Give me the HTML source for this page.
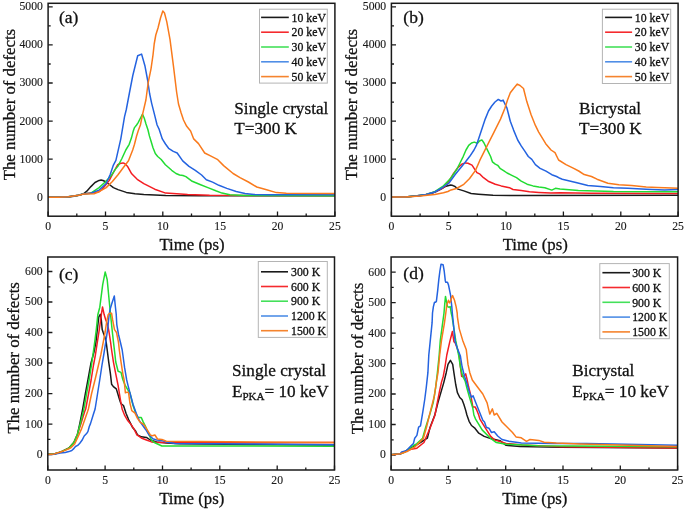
<!DOCTYPE html>
<html><head><meta charset="utf-8"><title>Defects vs time</title>
<style>html,body{margin:0;padding:0;background:#fff;}svg{display:block;} text{stroke:#111;stroke-width:0.3;} .tk text{stroke-width:0.12px;}</style></head>
<body>
<svg width="685" height="509" viewBox="0 0 685 509">
<rect width="685" height="509" fill="#fff"/>
<clipPath id="cpa"><rect x="48.1" y="3.3" width="286.8" height="212.9"/></clipPath>
<path d="M48.1 216.2 v-4.6 M105.5 216.2 v-4.6 M162.8 216.2 v-4.6 M220.2 216.2 v-4.6 M277.5 216.2 v-4.6 M334.9 216.2 v-4.6 M76.8 216.2 v-2.6 M134.1 216.2 v-2.6 M191.5 216.2 v-2.6 M248.9 216.2 v-2.6 M306.2 216.2 v-2.6 M48.1 197.3 h4.6 M48.1 159.2 h4.6 M48.1 121.1 h4.6 M48.1 83.0 h4.6 M48.1 44.9 h4.6 M48.1 6.9 h4.6 M48.1 178.3 h2.6 M48.1 140.2 h2.6 M48.1 102.1 h2.6 M48.1 64.0 h2.6 M48.1 25.9 h2.6" stroke="#1a1a1a" stroke-width="1.3" fill="none"/>
<g clip-path="url(#cpa)" fill="none" stroke-width="1.5" stroke-linejoin="round" stroke-linecap="round">
<path d="M48.1 197.3 L58.0 197.3 L68.4 196.9 L74.0 196.2 L78.7 195.3 L83.8 193.7 L86.8 191.2 L90.9 186.6 L95.0 182.5 L99.1 180.4 L101.1 180.1 L103.0 180.5 L105.2 181.5 L109.3 184.5 L113.4 187.6 L118.0 189.6 L126.3 192.4 L135.0 193.8 L143.8 194.6 L165.7 195.5 L200.0 195.8 L335.0 195.8" stroke="#1a1a1a"/>
<path d="M48.1 197.3 L58.0 197.3 L68.4 196.8 L78.7 195.3 L83.8 193.9 L92.0 192.7 L99.1 191.7 L102.0 189.5 L105.2 185.5 L109.3 180.4 L113.4 172.5 L117.5 165.0 L120.0 163.5 L123.0 162.9 L125.0 163.8 L127.4 166.2 L131.7 173.8 L137.2 179.3 L143.8 183.7 L154.7 189.2 L165.7 193.1 L187.6 194.6 L209.5 195.3 L335.0 195.6" stroke="#f41c22"/>
<path d="M48.1 197.3 L58.0 197.3 L68.4 196.8 L78.7 195.3 L83.8 193.8 L90.9 193.2 L99.1 187.6 L105.2 182.0 L108.8 178.2 L111.4 175.3 L115.3 169.4 L118.0 166.1 L121.9 158.5 L125.8 150.0 L129.2 144.3 L131.4 138.1 L133.1 131.6 L134.5 127.6 L136.6 125.0 L138.0 122.8 L140.5 118.0 L142.5 114.2 L144.2 118.0 L146.0 124.0 L148.0 130.0 L149.4 135.9 L151.2 141.8 L153.0 147.7 L155.3 153.6 L157.7 156.5 L161.2 159.5 L165.4 164.8 L171.7 170.3 L176.0 173.5 L179.6 175.0 L183.0 175.5 L185.9 176.6 L192.2 181.3 L200.0 184.5 L207.9 187.6 L215.8 190.8 L222.0 193.1 L229.9 194.7 L245.0 195.4 L335.0 195.8" stroke="#22dc32"/>
<path d="M48.1 197.3 L58.0 197.3 L68.4 196.8 L78.7 195.3 L83.8 193.8 L90.9 193.3 L99.1 190.1 L106.2 183.5 L110.3 174.3 L113.4 165.1 L115.9 160.3 L120.8 138.8 L124.5 116.9 L126.3 109.5 L129.6 92.0 L132.8 75.5 L137.7 55.8 L141.6 54.1 L144.9 65.7 L147.6 80.0 L149.6 93.5 L151.6 103.1 L154.4 114.1 L157.1 125.0 L159.2 129.4 L162.3 138.9 L165.5 144.0 L168.6 148.3 L173.3 151.4 L177.2 153.0 L182.7 160.9 L189.0 166.4 L195.3 170.3 L201.6 175.0 L206.3 179.7 L212.6 182.1 L218.9 185.3 L226.8 188.4 L236.2 191.5 L245.0 193.6 L254.0 194.6 L270.0 194.8 L335.0 194.8" stroke="#2463e0"/>
<path d="M48.1 197.3 L58.0 197.3 L68.4 196.8 L78.7 195.3 L83.8 194.0 L94.0 193.7 L99.1 191.7 L106.2 187.6 L112.4 181.5 L118.0 174.8 L123.0 168.0 L128.5 160.7 L132.7 150.0 L134.5 144.3 L136.6 136.0 L138.4 130.3 L140.4 125.0 L142.5 114.7 L145.9 100.0 L148.2 82.5 L151.0 68.8 L153.0 55.0 L154.2 44.0 L155.8 35.0 L158.0 28.0 L160.5 18.0 L162.8 10.9 L164.5 13.0 L166.8 21.9 L170.0 39.4 L173.4 65.7 L176.6 92.0 L178.5 104.0 L181.0 112.5 L183.5 120.0 L186.7 126.3 L190.6 131.0 L193.7 138.9 L198.5 143.6 L204.7 153.0 L211.0 156.2 L217.3 159.3 L223.6 165.6 L233.1 173.5 L240.0 177.6 L248.4 182.0 L256.8 187.0 L266.6 189.8 L276.4 192.6 L286.3 193.3 L335.0 193.5" stroke="#f97a1c"/>
</g>
<rect x="48.1" y="3.3" width="286.8" height="212.9" fill="none" stroke="#1a1a1a" stroke-width="1.5"/>
<g class="tk" font-family="'Liberation Serif','Times New Roman',serif" font-size="11.7" fill="#1a1a1a">
<text x="48.1" y="230.1" text-anchor="middle">0</text>
<text x="105.5" y="230.1" text-anchor="middle">5</text>
<text x="162.8" y="230.1" text-anchor="middle">10</text>
<text x="220.2" y="230.1" text-anchor="middle">15</text>
<text x="277.5" y="230.1" text-anchor="middle">20</text>
<text x="334.9" y="230.1" text-anchor="middle">25</text>
<text x="42.9" y="200.7" text-anchor="end">0</text>
<text x="42.9" y="162.6" text-anchor="end">1000</text>
<text x="42.9" y="124.5" text-anchor="end">2000</text>
<text x="42.9" y="86.4" text-anchor="end">3000</text>
<text x="42.9" y="48.3" text-anchor="end">4000</text>
<text x="42.9" y="10.3" text-anchor="end">5000</text>
</g>
<text transform="translate(192.0,249.7) scale(1,1.0)" text-anchor="middle" font-family="'Liberation Serif','Times New Roman',serif" font-size="16.8" fill="#111">Time (ps)</text>
<text transform="translate(14.6,180.3) rotate(-90) scale(1,1.0)" font-family="'Liberation Serif','Times New Roman',serif" font-size="16.8" fill="#111">The number of defects</text>
<text transform="translate(59.0,22.5) scale(1,1.0)" font-family="'Liberation Serif','Times New Roman',serif" font-size="17.5" fill="#111">(a)</text>
<rect x="259.5" y="9.2" width="67.8" height="73.9" fill="#fff" stroke="#b4b4b4" stroke-width="1"/>
<g font-family="'Liberation Serif','Times New Roman',serif" font-size="11.8" fill="#111">
<path d="M261.1 17.4 H288.8" stroke="#1a1a1a" stroke-width="1.6"/>
<text transform="translate(291.6,21.6) scale(1,1.0)">10 keV</text>
<path d="M261.1 32.2 H288.8" stroke="#f52a2e" stroke-width="1.6"/>
<text transform="translate(291.6,36.4) scale(1,1.0)">20 keV</text>
<path d="M261.1 47.0 H288.8" stroke="#44e05a" stroke-width="1.6"/>
<text transform="translate(291.6,51.2) scale(1,1.0)">30 keV</text>
<path d="M261.1 61.8 H288.8" stroke="#4f8ee6" stroke-width="1.6"/>
<text transform="translate(291.6,66.0) scale(1,1.0)">40 keV</text>
<path d="M261.1 76.6 H288.8" stroke="#f5842e" stroke-width="1.6"/>
<text transform="translate(291.6,80.8) scale(1,1.0)">50 keV</text>
</g>
<text transform="translate(234.3,113.5) scale(1,1.0)" font-family="'Liberation Serif','Times New Roman',serif" font-size="17.2" fill="#111">Single crystal</text><text transform="translate(234.3,134.3) scale(1,1.0)" font-family="'Liberation Serif','Times New Roman',serif" font-size="17.2" fill="#111">T=300 K</text>
<clipPath id="cpb"><rect x="391.4" y="3.3" width="286.7" height="212.9"/></clipPath>
<path d="M391.4 216.2 v-4.6 M448.7 216.2 v-4.6 M506.1 216.2 v-4.6 M563.4 216.2 v-4.6 M620.8 216.2 v-4.6 M678.1 216.2 v-4.6 M420.1 216.2 v-2.6 M477.4 216.2 v-2.6 M534.8 216.2 v-2.6 M592.1 216.2 v-2.6 M649.4 216.2 v-2.6 M391.4 197.3 h4.6 M391.4 159.2 h4.6 M391.4 121.1 h4.6 M391.4 83.0 h4.6 M391.4 44.9 h4.6 M391.4 6.9 h4.6 M391.4 178.3 h2.6 M391.4 140.2 h2.6 M391.4 102.1 h2.6 M391.4 64.0 h2.6 M391.4 25.9 h2.6" stroke="#1a1a1a" stroke-width="1.3" fill="none"/>
<g clip-path="url(#cpb)" fill="none" stroke-width="1.5" stroke-linejoin="round" stroke-linecap="round">
<path d="M391.4 197.1 L405.0 197.0 L417.3 195.9 L420.0 195.8 L427.3 194.5 L434.6 192.3 L441.9 188.7 L446.0 186.2 L450.7 185.0 L453.0 185.6 L455.0 186.5 L458.0 189.1 L463.8 190.9 L471.1 193.5 L478.4 194.2 L493.0 195.3 L520.0 195.5 L678.1 195.3" stroke="#1a1a1a"/>
<path d="M391.4 197.1 L405.0 197.0 L417.3 195.8 L426.0 194.5 L434.8 192.0 L440.0 189.5 L444.8 186.5 L449.2 180.7 L453.6 173.4 L458.0 167.5 L462.3 163.9 L465.4 162.9 L468.0 163.3 L472.0 165.1 L476.9 172.6 L480.0 174.2 L483.5 177.7 L488.2 181.2 L495.3 184.2 L501.2 185.9 L509.4 187.7 L513.0 189.5 L521.2 190.6 L529.5 191.8 L538.9 192.4 L550.7 193.0 L560.0 192.8 L590.1 193.2 L678.1 193.4" stroke="#f41c22"/>
<path d="M391.4 197.1 L405.0 197.0 L417.3 195.8 L426.0 194.5 L434.8 191.6 L443.5 185.8 L451.0 177.9 L456.7 169.5 L460.0 163.0 L463.3 156.3 L466.0 150.0 L468.7 145.4 L471.5 143.0 L474.2 142.1 L477.5 143.2 L479.5 141.0 L481.9 139.9 L484.0 143.0 L487.1 149.4 L490.6 156.5 L492.4 161.8 L495.3 164.1 L497.7 165.3 L500.0 168.3 L503.6 170.6 L507.1 173.0 L511.8 175.3 L516.5 177.7 L521.2 181.2 L527.1 184.2 L533.0 185.9 L538.9 187.1 L544.8 187.7 L551.8 190.1 L555.4 188.3 L560.0 188.9 L578.4 190.5 L613.5 191.6 L678.1 191.8" stroke="#22dc32"/>
<path d="M391.4 197.1 L405.0 197.0 L417.3 195.8 L426.0 194.5 L434.8 192.0 L441.9 188.0 L449.2 182.8 L455.0 174.8 L460.9 167.5 L465.0 162.5 L469.8 156.3 L474.0 150.0 L476.4 145.4 L480.8 132.3 L485.2 119.1 L488.5 111.0 L491.7 106.0 L495.0 102.0 L498.3 99.4 L501.0 101.0 L503.1 100.1 L507.0 108.2 L510.3 121.3 L513.6 130.1 L517.7 140.0 L521.2 145.9 L524.8 151.2 L528.3 156.5 L531.8 159.4 L535.4 164.7 L540.1 168.3 L546.0 171.2 L551.8 174.7 L556.6 176.5 L560.0 178.3 L562.3 179.2 L569.6 181.0 L576.9 182.8 L587.8 185.6 L600.6 186.5 L613.4 187.8 L628.0 188.3 L646.2 189.2 L664.5 190.1 L678.1 189.4" stroke="#2463e0"/>
<path d="M391.4 197.1 L405.0 197.1 L420.0 196.0 L434.8 194.5 L443.5 192.8 L447.9 191.5 L451.0 189.9 L456.5 188.5 L463.8 184.3 L469.6 178.5 L475.5 170.4 L479.9 160.2 L487.3 145.4 L493.9 132.3 L500.5 119.1 L504.9 108.2 L507.5 100.0 L510.3 92.8 L514.0 88.0 L517.3 84.1 L520.0 85.5 L523.5 88.5 L526.8 101.6 L531.1 114.7 L535.5 125.7 L538.7 132.1 L545.7 143.7 L551.0 150.0 L555.0 152.7 L558.6 160.0 L566.0 164.6 L573.2 168.2 L578.7 171.0 L584.2 174.6 L591.5 176.5 L597.0 179.2 L607.9 183.2 L618.9 184.7 L631.6 185.6 L646.2 187.0 L657.2 187.4 L671.8 188.0 L678.1 188.3" stroke="#f97a1c"/>
</g>
<rect x="391.4" y="3.3" width="286.7" height="212.9" fill="none" stroke="#1a1a1a" stroke-width="1.5"/>
<g class="tk" font-family="'Liberation Serif','Times New Roman',serif" font-size="11.7" fill="#1a1a1a">
<text x="391.4" y="230.1" text-anchor="middle">0</text>
<text x="448.7" y="230.1" text-anchor="middle">5</text>
<text x="506.1" y="230.1" text-anchor="middle">10</text>
<text x="563.4" y="230.1" text-anchor="middle">15</text>
<text x="620.8" y="230.1" text-anchor="middle">20</text>
<text x="678.1" y="230.1" text-anchor="middle">25</text>
<text x="386.2" y="200.7" text-anchor="end">0</text>
<text x="386.2" y="162.6" text-anchor="end">1000</text>
<text x="386.2" y="124.5" text-anchor="end">2000</text>
<text x="386.2" y="86.4" text-anchor="end">3000</text>
<text x="386.2" y="48.3" text-anchor="end">4000</text>
<text x="386.2" y="10.3" text-anchor="end">5000</text>
</g>
<text transform="translate(535.2,249.7) scale(1,1.0)" text-anchor="middle" font-family="'Liberation Serif','Times New Roman',serif" font-size="16.8" fill="#111">Time (ps)</text>
<text transform="translate(357.3,180.3) rotate(-90) scale(1,1.0)" font-family="'Liberation Serif','Times New Roman',serif" font-size="16.8" fill="#111">The number of defects</text>
<text transform="translate(403.3,22.5) scale(1,1.0)" font-family="'Liberation Serif','Times New Roman',serif" font-size="17.5" fill="#111">(b)</text>
<rect x="602.4" y="9.2" width="68.3" height="74.3" fill="#fff" stroke="#b4b4b4" stroke-width="1"/>
<g font-family="'Liberation Serif','Times New Roman',serif" font-size="11.8" fill="#111">
<path d="M605.1 17.4 H632.1" stroke="#1a1a1a" stroke-width="1.6"/>
<text transform="translate(634.8,21.6) scale(1,1.0)">10 keV</text>
<path d="M605.1 32.2 H632.1" stroke="#f52a2e" stroke-width="1.6"/>
<text transform="translate(634.8,36.4) scale(1,1.0)">20 keV</text>
<path d="M605.1 47.0 H632.1" stroke="#44e05a" stroke-width="1.6"/>
<text transform="translate(634.8,51.2) scale(1,1.0)">30 keV</text>
<path d="M605.1 61.8 H632.1" stroke="#4f8ee6" stroke-width="1.6"/>
<text transform="translate(634.8,66.0) scale(1,1.0)">40 keV</text>
<path d="M605.1 76.6 H632.1" stroke="#f5842e" stroke-width="1.6"/>
<text transform="translate(634.8,80.8) scale(1,1.0)">50 keV</text>
</g>
<text transform="translate(579.0,114.0) scale(1,1.0)" font-family="'Liberation Serif','Times New Roman',serif" font-size="17.2" fill="#111">Bicrystal</text><text transform="translate(579.0,134.3) scale(1,1.0)" font-family="'Liberation Serif','Times New Roman',serif" font-size="17.2" fill="#111">T=300 K</text>
<clipPath id="cpc"><rect x="47.8" y="257.0" width="286.7" height="213.0"/></clipPath>
<path d="M47.8 470.0 v-4.6 M105.1 470.0 v-4.6 M162.5 470.0 v-4.6 M219.8 470.0 v-4.6 M277.2 470.0 v-4.6 M334.5 470.0 v-4.6 M76.5 470.0 v-2.6 M133.8 470.0 v-2.6 M191.1 470.0 v-2.6 M248.5 470.0 v-2.6 M305.8 470.0 v-2.6 M47.8 454.6 h4.6 M47.8 424.1 h4.6 M47.8 393.6 h4.6 M47.8 363.0 h4.6 M47.8 332.5 h4.6 M47.8 302.0 h4.6 M47.8 271.5 h4.6 M47.8 439.3 h2.6 M47.8 408.8 h2.6 M47.8 378.3 h2.6 M47.8 347.8 h2.6 M47.8 317.3 h2.6 M47.8 286.8 h2.6" stroke="#1a1a1a" stroke-width="1.3" fill="none"/>
<g clip-path="url(#cpc)" fill="none" stroke-width="1.5" stroke-linejoin="round" stroke-linecap="round">
<path d="M47.8 454.3 L55.1 453.8 L61.0 451.9 L69.2 447.8 L73.9 442.5 L77.5 434.2 L79.8 423.6 L82.7 409.0 L85.3 394.0 L88.0 379.5 L91.0 363.0 L94.0 352.0 L95.9 342.3 L97.3 329.6 L98.8 316.8 L100.3 314.3 L101.3 319.7 L102.2 329.6 L103.2 332.5 L104.7 336.4 L106.2 342.3 L107.2 350.0 L108.7 361.8 L110.4 373.6 L111.6 384.2 L113.4 386.6 L116.3 388.9 L118.1 394.8 L119.9 400.7 L120.9 403.6 L123.5 405.5 L126.0 413.2 L128.6 419.5 L132.4 427.2 L135.6 431.0 L137.5 434.8 L141.3 436.8 L146.4 437.4 L150.3 440.0 L156.6 441.9 L162.0 442.5 L166.3 443.0 L179.4 443.8 L250.0 444.5 L334.5 445.0" stroke="#1a1a1a"/>
<path d="M47.8 454.3 L55.1 453.8 L61.0 451.9 L69.2 447.8 L73.9 442.5 L77.5 434.2 L81.0 423.6 L84.6 411.8 L85.7 409.0 L88.5 394.0 L91.2 379.5 L93.5 365.0 L95.4 355.0 L97.3 342.3 L99.3 329.6 L101.3 314.8 L102.5 307.0 L104.2 314.8 L105.7 319.7 L107.6 324.6 L109.1 332.5 L110.6 342.3 L111.6 350.0 L113.4 361.8 L115.7 373.6 L118.1 385.4 L120.3 399.1 L122.2 409.3 L124.8 415.7 L127.9 420.8 L131.1 424.6 L133.7 428.5 L136.9 434.8 L138.8 436.1 L141.3 438.0 L146.4 440.0 L151.5 441.9 L156.6 442.5 L162.0 442.5 L200.0 442.8 L334.5 442.6" stroke="#f41c22"/>
<path d="M47.8 454.3 L55.1 453.8 L61.0 451.9 L69.2 447.8 L73.9 442.5 L77.5 434.2 L80.3 423.6 L83.9 409.0 L86.5 394.0 L89.2 379.5 L91.5 365.0 L92.9 355.0 L94.4 344.3 L96.3 329.6 L97.8 314.8 L99.8 307.2 L100.8 299.4 L102.7 284.6 L105.2 271.9 L107.2 279.7 L108.6 294.5 L109.6 305.0 L110.6 314.8 L112.1 329.6 L113.5 342.3 L115.0 355.0 L115.7 361.8 L118.1 371.2 L121.0 372.4 L122.8 379.5 L125.2 385.4 L128.0 390.1 L129.9 392.8 L133.0 405.5 L136.2 414.4 L138.1 417.6 L141.3 417.6 L143.3 422.1 L145.8 427.2 L149.0 434.8 L151.5 440.0 L153.1 441.6 L155.4 443.0 L161.9 446.0 L200.0 446.0 L334.5 446.2" stroke="#22dc32"/>
<path d="M47.8 454.5 L54.3 454.2 L60.1 453.1 L65.2 452.4 L68.9 451.6 L71.8 450.5 L74.0 448.4 L75.5 446.5 L77.7 445.4 L79.8 443.2 L82.0 440.3 L84.2 436.0 L86.4 433.8 L87.9 431.6 L89.3 426.5 L90.5 423.6 L93.4 414.2 L95.1 409.0 L97.5 394.0 L99.8 379.5 L102.0 365.0 L103.7 355.0 L105.7 342.3 L107.6 329.6 L109.1 314.8 L110.2 309.0 L111.6 304.3 L114.3 295.9 L115.3 306.0 L116.2 314.0 L116.8 324.6 L118.5 334.5 L120.4 342.3 L122.2 350.0 L122.9 355.0 L124.6 367.7 L126.7 380.0 L128.0 385.4 L129.9 392.8 L133.0 404.2 L136.2 413.2 L139.4 420.8 L142.6 425.3 L145.8 429.7 L149.0 434.8 L152.8 438.7 L156.6 440.0 L162.0 440.6 L166.3 442.1 L175.0 443.4 L250.0 444.0 L334.5 444.7" stroke="#2463e0"/>
<path d="M47.8 454.5 L54.3 453.9 L60.1 452.2 L64.5 450.6 L68.9 448.8 L71.1 447.5 L74.7 444.0 L78.4 436.0 L81.3 429.4 L83.4 423.6 L87.5 411.8 L88.4 409.0 L91.5 394.0 L95.1 379.5 L98.5 365.0 L100.8 355.0 L103.2 342.3 L105.2 331.5 L106.7 321.7 L108.1 314.8 L109.6 313.3 L111.6 313.3 L112.6 319.7 L114.5 329.6 L116.5 332.5 L118.5 342.3 L119.3 350.0 L121.0 361.8 L122.8 373.6 L124.1 380.0 L125.4 392.8 L127.3 392.1 L128.6 392.8 L129.9 403.0 L131.8 410.6 L135.0 413.2 L137.5 418.3 L140.1 422.1 L143.9 424.6 L147.1 429.7 L150.3 434.8 L152.3 435.8 L154.9 435.0 L157.5 439.0 L161.9 439.4 L166.3 441.2 L200.0 441.6 L334.5 442.4" stroke="#f97a1c"/>
</g>
<rect x="47.8" y="257.0" width="286.7" height="213.0" fill="none" stroke="#1a1a1a" stroke-width="1.5"/>
<g class="tk" font-family="'Liberation Serif','Times New Roman',serif" font-size="11.7" fill="#1a1a1a">
<text x="47.8" y="483.9" text-anchor="middle">0</text>
<text x="105.1" y="483.9" text-anchor="middle">5</text>
<text x="162.5" y="483.9" text-anchor="middle">10</text>
<text x="219.8" y="483.9" text-anchor="middle">15</text>
<text x="277.2" y="483.9" text-anchor="middle">20</text>
<text x="334.5" y="483.9" text-anchor="middle">25</text>
<text x="42.6" y="458.0" text-anchor="end">0</text>
<text x="42.6" y="427.5" text-anchor="end">100</text>
<text x="42.6" y="397.0" text-anchor="end">200</text>
<text x="42.6" y="366.4" text-anchor="end">300</text>
<text x="42.6" y="335.9" text-anchor="end">400</text>
<text x="42.6" y="305.4" text-anchor="end">500</text>
<text x="42.6" y="274.9" text-anchor="end">600</text>
</g>
<text transform="translate(191.7,503.5) scale(1,1.0)" text-anchor="middle" font-family="'Liberation Serif','Times New Roman',serif" font-size="16.8" fill="#111">Time (ps)</text>
<text transform="translate(19.3,433.6) rotate(-90) scale(1,1.0)" font-family="'Liberation Serif','Times New Roman',serif" font-size="16.8" fill="#111">The number of defects</text>
<text transform="translate(59.0,279.6) scale(1,1.0)" font-family="'Liberation Serif','Times New Roman',serif" font-size="17.5" fill="#111">(c)</text>
<rect x="258.3" y="261.5" width="69.0" height="75.9" fill="#fff" stroke="#b4b4b4" stroke-width="1"/>
<g font-family="'Liberation Serif','Times New Roman',serif" font-size="11.8" fill="#111">
<path d="M261.0 271.8 H288.0" stroke="#1a1a1a" stroke-width="1.6"/>
<text transform="translate(291.0,276.0) scale(1,1.0)">300 K</text>
<path d="M261.0 286.5 H288.0" stroke="#f52a2e" stroke-width="1.6"/>
<text transform="translate(291.0,290.7) scale(1,1.0)">600 K</text>
<path d="M261.0 301.2 H288.0" stroke="#44e05a" stroke-width="1.6"/>
<text transform="translate(291.0,305.4) scale(1,1.0)">900 K</text>
<path d="M261.0 316.0 H288.0" stroke="#4f8ee6" stroke-width="1.6"/>
<text transform="translate(291.0,320.2) scale(1,1.0)">1200 K</text>
<path d="M261.0 330.7 H288.0" stroke="#f5842e" stroke-width="1.6"/>
<text transform="translate(291.0,334.9) scale(1,1.0)">1500 K</text>
</g>
<text transform="translate(232.0,375.5) scale(1,1.0)" font-family="'Liberation Serif','Times New Roman',serif" font-size="17.2" fill="#111">Single crystal</text><text transform="translate(232.0,396.7) scale(1,1.0)" font-family="'Liberation Serif','Times New Roman',serif" font-size="17.2" fill="#111">E<tspan font-size="11" dy="2.9">PKA</tspan><tspan dy="-2.9">= 10 keV</tspan></text>
<clipPath id="cpd"><rect x="391.1" y="257.0" width="286.5" height="213.0"/></clipPath>
<path d="M391.1 470.0 v-4.6 M448.4 470.0 v-4.6 M505.7 470.0 v-4.6 M563.0 470.0 v-4.6 M620.3 470.0 v-4.6 M677.6 470.0 v-4.6 M419.8 470.0 v-2.6 M477.1 470.0 v-2.6 M534.4 470.0 v-2.6 M591.7 470.0 v-2.6 M649.0 470.0 v-2.6 M391.1 455.0 h4.6 M391.1 424.5 h4.6 M391.1 394.0 h4.6 M391.1 363.6 h4.6 M391.1 333.1 h4.6 M391.1 302.6 h4.6 M391.1 272.1 h4.6 M391.1 439.8 h2.6 M391.1 409.3 h2.6 M391.1 378.8 h2.6 M391.1 348.3 h2.6 M391.1 317.8 h2.6 M391.1 287.3 h2.6" stroke="#1a1a1a" stroke-width="1.3" fill="none"/>
<g clip-path="url(#cpd)" fill="none" stroke-width="1.5" stroke-linejoin="round" stroke-linecap="round">
<path d="M391.1 454.8 L400.4 453.8 L404.3 451.8 L410.0 448.5 L413.0 446.5 L417.0 444.5 L422.0 441.5 L427.3 438.2 L430.1 427.2 L434.8 415.0 L438.0 402.2 L441.5 390.4 L443.9 382.1 L446.2 372.7 L448.0 364.4 L450.4 360.3 L452.7 364.4 L453.9 372.7 L455.7 384.5 L457.4 392.7 L459.8 397.5 L462.1 399.8 L463.9 404.5 L465.7 410.4 L466.9 415.0 L469.1 421.3 L471.5 425.5 L474.5 427.8 L478.8 433.2 L484.2 436.4 L490.7 438.6 L500.0 440.7 L506.1 445.3 L520.0 446.5 L560.0 447.3 L677.6 448.0" stroke="#1a1a1a"/>
<path d="M391.1 454.8 L400.4 453.9 L410.0 449.5 L416.9 448.2 L424.0 442.5 L425.7 438.2 L430.4 427.2 L435.0 415.0 L437.4 402.2 L439.7 390.4 L441.5 382.1 L443.3 376.2 L445.0 366.8 L446.8 355.0 L449.8 341.6 L452.4 331.5 L453.9 341.6 L455.1 342.7 L457.4 348.6 L459.2 355.0 L460.4 366.8 L461.6 376.2 L463.3 376.8 L465.7 373.9 L466.9 378.6 L468.6 386.8 L471.0 396.3 L472.8 406.9 L475.1 406.9 L476.9 410.4 L478.7 415.0 L479.9 419.1 L485.3 427.8 L490.7 436.4 L494.8 440.1 L500.0 441.5 L506.1 443.4 L522.1 445.0 L560.0 446.8 L677.6 448.0" stroke="#f41c22"/>
<path d="M391.1 454.8 L400.4 453.7 L405.0 452.0 L411.0 447.2 L416.9 443.6 L422.6 438.2 L425.7 427.2 L430.2 413.0 L433.3 402.2 L435.6 388.0 L437.4 372.7 L439.2 355.0 L440.3 340.4 L442.7 322.7 L444.0 313.0 L444.8 303.4 L445.5 296.4 L446.4 301.2 L447.5 306.6 L449.1 307.2 L450.2 306.6 L451.2 313.0 L452.1 316.8 L453.9 328.6 L455.7 340.4 L458.0 352.2 L458.6 355.0 L460.4 366.8 L462.7 376.2 L465.1 380.9 L466.9 388.0 L469.2 396.3 L471.0 402.2 L472.8 408.1 L473.9 415.0 L475.6 419.1 L482.1 429.9 L490.7 438.5 L496.4 442.6 L506.1 444.2 L538.2 445.8 L677.6 446.7" stroke="#22dc32"/>
<path d="M391.1 454.8 L400.4 453.7 L401.6 451.9 L406.3 450.7 L410.8 446.0 L413.4 443.6 L414.7 438.2 L416.9 435.4 L418.6 427.2 L420.5 425.9 L422.9 411.4 L424.8 399.0 L426.2 388.0 L427.9 372.7 L428.8 355.0 L429.7 346.3 L432.1 322.7 L432.5 313.0 L433.4 306.6 L434.5 302.3 L435.6 302.3 L436.4 301.2 L437.7 290.4 L438.8 279.6 L439.9 271.0 L441.0 264.3 L443.1 264.7 L444.2 271.0 L445.3 280.7 L445.8 282.3 L447.5 282.3 L448.5 285.0 L449.6 290.4 L450.7 295.8 L451.2 301.2 L451.8 306.6 L452.3 313.0 L453.3 322.7 L455.1 341.6 L457.4 348.6 L460.4 356.0 L462.1 366.8 L464.5 376.2 L466.9 383.3 L469.2 391.6 L471.4 397.5 L473.1 395.8 L475.8 402.8 L479.3 411.5 L482.8 420.3 L484.5 422.0 L486.3 427.3 L488.9 428.2 L491.5 432.5 L494.2 431.7 L497.7 436.0 L502.0 439.5 L509.0 441.3 L521.3 443.0 L554.0 443.5 L586.4 443.4 L677.6 445.2" stroke="#2463e0"/>
<path d="M391.1 454.8 L400.4 453.7 L407.0 451.5 L414.6 447.2 L421.7 440.1 L423.4 438.2 L426.5 427.2 L430.4 411.4 L434.4 395.7 L436.7 380.0 L438.0 372.7 L439.7 355.0 L441.5 340.4 L444.5 322.7 L445.8 313.0 L446.9 304.5 L448.5 300.2 L449.6 302.9 L450.7 301.2 L451.8 296.9 L452.6 295.6 L454.5 300.2 L456.1 306.6 L457.2 313.0 L457.4 316.8 L459.2 328.6 L462.7 340.4 L466.3 349.8 L466.9 355.0 L468.0 364.4 L469.8 372.7 L472.3 380.0 L477.5 387.0 L482.8 394.0 L487.1 402.8 L489.8 414.1 L492.4 408.9 L494.2 415.0 L496.8 413.3 L502.0 422.0 L507.3 427.3 L512.5 432.5 L516.0 436.9 L521.3 437.8 L526.5 441.3 L530.0 439.5 L538.8 440.4 L544.1 442.2 L556.3 443.0 L580.0 443.9 L600.0 444.6 L677.6 446.5" stroke="#f97a1c"/>
</g>
<rect x="391.1" y="257.0" width="286.5" height="213.0" fill="none" stroke="#1a1a1a" stroke-width="1.5"/>
<g class="tk" font-family="'Liberation Serif','Times New Roman',serif" font-size="11.7" fill="#1a1a1a">
<text x="391.1" y="483.9" text-anchor="middle">0</text>
<text x="448.4" y="483.9" text-anchor="middle">5</text>
<text x="505.7" y="483.9" text-anchor="middle">10</text>
<text x="563.0" y="483.9" text-anchor="middle">15</text>
<text x="620.3" y="483.9" text-anchor="middle">20</text>
<text x="677.6" y="483.9" text-anchor="middle">25</text>
<text x="385.9" y="458.4" text-anchor="end">0</text>
<text x="385.9" y="427.9" text-anchor="end">100</text>
<text x="385.9" y="397.4" text-anchor="end">200</text>
<text x="385.9" y="367.0" text-anchor="end">300</text>
<text x="385.9" y="336.5" text-anchor="end">400</text>
<text x="385.9" y="306.0" text-anchor="end">500</text>
<text x="385.9" y="275.5" text-anchor="end">600</text>
</g>
<text transform="translate(534.9,503.5) scale(1,1.0)" text-anchor="middle" font-family="'Liberation Serif','Times New Roman',serif" font-size="16.8" fill="#111">Time (ps)</text>
<text transform="translate(362.6,434.2) rotate(-90) scale(1,1.0)" font-family="'Liberation Serif','Times New Roman',serif" font-size="16.8" fill="#111">The number of defects</text>
<text transform="translate(403.3,279.4) scale(1,1.0)" font-family="'Liberation Serif','Times New Roman',serif" font-size="17.5" fill="#111">(d)</text>
<rect x="599.8" y="263.6" width="69.5" height="75.1" fill="#fff" stroke="#b4b4b4" stroke-width="1"/>
<g font-family="'Liberation Serif','Times New Roman',serif" font-size="11.8" fill="#111">
<path d="M602.4 272.7 H630.0" stroke="#1a1a1a" stroke-width="1.6"/>
<text transform="translate(632.2,276.9) scale(1,1.0)">300 K</text>
<path d="M602.4 287.5 H630.0" stroke="#f52a2e" stroke-width="1.6"/>
<text transform="translate(632.2,291.7) scale(1,1.0)">600 K</text>
<path d="M602.4 302.3 H630.0" stroke="#44e05a" stroke-width="1.6"/>
<text transform="translate(632.2,306.5) scale(1,1.0)">900 K</text>
<path d="M602.4 317.1 H630.0" stroke="#4f8ee6" stroke-width="1.6"/>
<text transform="translate(632.2,321.3) scale(1,1.0)">1200 K</text>
<path d="M602.4 331.9 H630.0" stroke="#f5842e" stroke-width="1.6"/>
<text transform="translate(632.2,336.1) scale(1,1.0)">1500 K</text>
</g>
<text transform="translate(572.3,375.5) scale(1,1.0)" font-family="'Liberation Serif','Times New Roman',serif" font-size="17.2" fill="#111">Bicrystal</text><text transform="translate(572.3,396.7) scale(1,1.0)" font-family="'Liberation Serif','Times New Roman',serif" font-size="17.2" fill="#111">E<tspan font-size="11" dy="2.9">PKA</tspan><tspan dy="-2.9">= 10 keV</tspan></text>
</svg>
</body></html>
